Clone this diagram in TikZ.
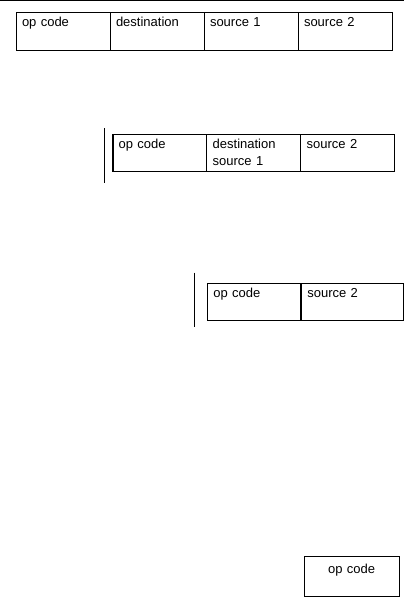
\documentclass[tikz,border=0pt]{standalone}
\usepackage{fontspec}
\setmainfont{Liberation Sans}
\usepackage{tikz}
\usetikzlibrary{positioning}
\tikzstyle{cell} = [draw=black, line width=0.9pt, outer sep=0pt, inner xsep=6pt, inner ysep=0pt, text width=82pt, text height=14.3pt, text depth=23pt, anchor=north west, font=\fontsize{13pt}{17pt}\selectfont]

\begin{document}
\begin{tikzpicture}[x=1pt,y=-1pt,
		bar/.style = {draw=black, line width=0.9pt},
		wide/.style = {text width=90pt},
		]
		\useasboundingbox (0,0) rectangle (404,599);
		\draw[line width=1pt] (0,0.6) -- (404,0.6);
		% three address
		\node[cell] (opA) at (16,12.7) {op code};
		\node[cell, right=0pt of opA] (dstA) {destination};
		\node[cell, right=0pt of dstA] (srcoA) {source 1};
		\node[cell, right=0pt of srcoA] (srctA) {source 2};
		% two address
		\draw[bar] (104.3,128) -- (104.3,182.7);
		\node[cell] (opB) at (112.7,134.5) {op code};
		\node[cell, right=0pt of opB] (dstB) {destination\\source 1};
		\node[cell, right=0pt of dstB] (srctB) {source 2};
		\draw[line width=1.8pt] (opB.north west) -- (opB.south west);
		% one address
		\draw[bar] (194.3,272.7) -- (194.3,326.7);
		\node[cell] (opC) at (207.3,283.3) {op code};
		\node[cell, wide, right=0pt of opC] (srctC) {source 2};
		\draw[line width=1.8pt] (opC.north east) -- (opC.south east);
		% zero address
		\node[cell, align=center, text width=83.3pt, text height=16.6pt, text depth=23.4pt] (opD) at (304,556.7) {op code};
\end{tikzpicture}
\end{document}
